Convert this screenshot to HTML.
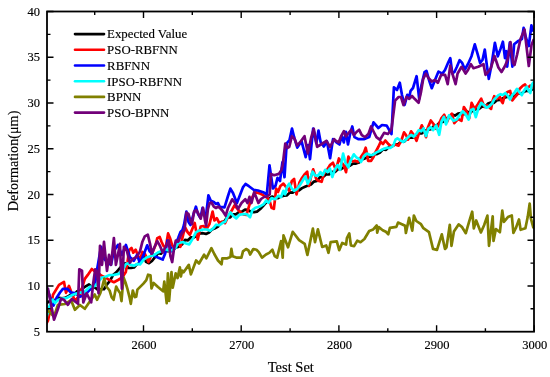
<!DOCTYPE html>
<html><head><meta charset="utf-8"><style>
html,body{margin:0;padding:0;background:#fff;width:550px;height:377px;overflow:hidden}
svg{display:block}
</style></head><body><svg width="550" height="377" viewBox="0 0 550 377"><clipPath id="c"><rect x="47.0" y="11.5" width="487.0" height="320.2"/></clipPath><g clip-path="url(#c)" fill="none" stroke-width="2.7" stroke-linejoin="round" stroke-linecap="round"><polyline stroke="#000000" points="44.0,303.9 47.0,302.9 50.0,301.0 53.0,301.2 56.0,299.3 59.0,297.9 62.0,298.4 65.0,297.8 68.0,296.5 71.0,294.3 74.0,295.0 77.0,291.4 80.0,290.8 83.0,288.1 86.0,286.1 89.0,284.5 92.0,287.3 95.0,287.5 98.0,290.1 101.0,289.2 104.0,289.2 107.0,284.4 110.0,280.9 113.0,275.1 116.0,272.6 119.0,269.2 122.0,265.7 125.0,263.3 128.0,267.8 131.0,268.0 134.0,267.5 137.0,264.2 140.0,263.1 143.0,253.1 146.0,261.7 149.0,263.2 152.0,261.0 155.0,257.2 158.0,253.2 161.0,253.6 164.0,251.3 167.0,250.8 170.0,251.2 173.0,250.0 176.0,247.5 179.0,246.7 182.0,244.5 185.0,239.9 188.0,240.3 191.0,237.3 194.0,237.4 197.0,235.5 200.0,233.3 203.0,233.2 206.0,233.9 209.0,232.6 212.0,229.4 215.0,228.2 218.0,226.6 221.0,223.0 224.0,221.7 227.0,217.6 230.0,217.5 233.0,214.4 236.0,214.3 239.0,212.0 242.0,211.6 245.0,209.6 248.0,209.9 251.0,211.8 254.0,212.1 257.0,211.6 260.0,209.3 263.0,206.1 266.0,202.6 269.0,198.8 272.0,196.5 275.0,197.7 278.0,198.1 281.0,196.4 284.0,195.6 287.0,195.3 290.0,192.4 293.0,192.6 296.0,189.9 299.0,190.3 302.0,188.1 305.0,186.7 308.0,185.4 311.0,184.4 314.0,181.6 317.0,180.9 320.0,177.2 323.0,177.0 326.0,174.4 329.0,174.5 332.0,171.9 335.0,172.0 338.0,169.0 341.0,169.2 344.0,167.2 347.0,165.9 350.0,165.7 353.0,163.7 356.0,163.6 359.0,162.5 362.0,159.4 365.0,158.4 368.0,156.8 371.0,156.6 374.0,154.0 377.0,154.1 380.0,152.5 383.0,149.4 386.0,149.9 389.0,146.9 392.0,146.5 395.0,144.3 398.0,144.2 401.0,141.7 404.0,141.7 407.0,138.8 410.0,137.6 413.0,137.6 416.0,135.0 419.0,133.2 422.0,133.4 425.0,130.5 428.0,129.8 431.0,129.2 434.0,125.9 437.0,125.1 440.0,122.2 443.0,121.8 446.0,118.5 449.0,117.6 452.0,114.5 455.0,115.6 458.0,113.6 461.0,113.2 464.0,114.1 467.0,111.6 470.0,112.9 473.0,110.2 476.0,109.2 479.0,109.0 482.0,106.4 485.0,107.0 488.0,103.6 491.0,102.4 494.0,102.8 497.0,100.2 500.0,100.0 503.0,98.2 506.0,97.3 509.0,96.5 512.0,96.3 515.0,95.9 518.0,93.1 521.0,93.7 524.0,91.8 527.0,90.8 530.0,91.2 533.0,88.8 536.0,88.4"/><polyline stroke="#ff0000" points="44.0,328.0 48.0,320.7 53.0,294.8 59.0,284.9 64.0,281.9 66.0,292.8 69.0,285.9 72.0,294.0 75.0,300.8 80.0,294.8 84.8,278.9 87.8,274.9 91.8,269.0 94.0,270.8 98.0,273.0 102.0,276.0 105.5,277.5 109.1,279.9 113.9,282.2 118.0,280.0 122.2,277.5 125.8,272.0 127.5,262.0 129.1,250.3 131.5,247.9 133.3,252.7 135.7,249.7 138.7,257.5 140.0,259.6 142.5,252.0 145.0,254.0 148.4,262.0 151.9,253.7 155.5,245.3 157.3,238.1 159.7,236.9 161.5,241.7 163.5,246.0 165.7,247.7 168.1,233.4 170.0,238.0 172.2,245.3 174.5,248.0 176.5,243.0 178.0,241.0 180.4,246.8 183.4,233.6 185.2,227.7 187.5,232.0 189.9,234.8 192.3,228.9 194.7,222.9 197.7,239.6 200.7,226.5 203.5,226.0 206.6,228.9 209.5,224.0 212.6,211.6 214.4,220.5 216.8,218.1 219.2,222.9 222.5,221.5 225.0,223.2 229.0,215.0 232.0,210.0 234.5,205.3 237.5,209.0 240.5,212.4 243.5,214.5 246.5,214.8 248.9,206.5 251.0,200.0 253.6,194.5 256.0,192.2 259.6,193.4 263.0,195.0 266.0,197.0 269.2,199.3 271.5,207.7 273.9,208.9 276.2,188.5 278.0,192.0 280.4,186.0 283.4,183.6 286.0,187.0 289.3,190.8 291.7,181.3 294.1,178.9 296.5,194.4 299.5,182.4 302.0,178.0 304.8,174.1 307.2,171.7 309.0,186.0 311.0,177.0 313.2,169.3 316.2,178.9 318.0,180.6 321.6,181.8 324.0,173.4 327.0,170.0 329.9,165.1 332.9,162.7 335.9,169.8 338.9,158.5 341.0,162.0 343.7,165.1 346.0,172.2 348.4,156.7 350.5,160.0 352.6,161.5 355.0,160.8 358.0,162.0 361.6,156.0 364.0,152.4 365.7,147.7 367.0,154.0 368.1,160.8 371.1,160.8 373.5,157.0 375.9,151.3 378.3,147.0 380.7,141.7 383.0,144.0 385.4,140.5 388.4,144.1 391.4,146.5 395.0,144.4 398.6,145.6 401.5,140.0 404.0,132.4 406.0,135.0 408.1,139.6 411.1,131.3 413.8,135.0 416.5,140.8 419.0,133.0 421.8,125.3 424.0,130.0 426.0,137.2 427.8,127.7 430.8,120.5 433.5,124.0 436.2,128.9 439.0,124.0 441.5,118.1 444.2,114.8 447.0,122.0 449.5,116.0 451.9,113.6 454.3,123.2 458.0,119.0 461.5,120.8 463.9,107.1 466.5,111.0 469.2,118.4 471.6,102.9 474.6,108.9 478.0,104.0 481.2,98.7 484.2,106.5 487.1,105.3 489.0,107.0 491.1,108.9 492.5,101.0 494.2,96.2 497.0,99.0 499.5,96.2 501.7,101.5 502.7,103.1 504.8,95.1 507.5,92.0 510.1,90.9 512.3,100.5 515.0,97.0 517.6,94.1 519.7,88.8 522.9,85.6 525.0,84.5 527.5,88.0 530.3,85.6 532.4,87.7 537.0,84.0"/><polyline stroke="#0000ff" points="44.0,284.0 47.0,288.0 50.0,297.0 53.5,305.6 56.5,298.0 60.0,292.5 62.9,288.8 67.3,288.8 70.9,292.5 75.0,293.0 79.9,296.8 84.8,294.8 88.8,290.8 94.8,284.9 97.0,270.0 101.0,246.9 104.0,258.9 108.0,262.8 111.0,264.8 113.9,250.9 117.9,244.9 121.9,254.9 125.9,244.9 129.8,256.9 133.8,260.9 137.0,254.9 140.0,263.2 143.6,254.9 147.2,245.3 149.6,251.3 152.5,254.0 155.5,256.6 159.0,258.0 162.7,259.6 165.1,253.7 167.5,240.5 170.0,246.0 172.2,251.3 175.0,246.0 178.2,238.1 180.5,232.0 182.5,230.0 184.0,225.0 186.4,211.5 188.5,222.0 190.5,225.0 193.0,216.0 195.9,206.7 198.0,214.0 200.5,218.0 202.5,207.9 204.5,215.0 206.0,216.0 208.4,195.4 210.8,200.7 213.8,201.9 216.0,204.0 218.0,203.1 219.8,206.8 224.5,207.4 228.0,196.0 230.4,188.6 233.0,193.0 236.9,202.9 240.0,195.0 242.9,187.4 245.5,184.0 248.9,186.2 253.6,189.8 258.0,190.5 263.2,192.2 266.8,194.5 269.5,165.3 272.9,188.5 275.5,185.8 277.5,177.9 280.0,181.0 282.4,162.4 284.5,177.2 286.7,143.3 289.5,140.0 292.0,128.5 294.1,137.0 297.3,147.6 301.5,141.2 305.7,157.1 308.0,145.0 310.0,159.2 313.2,128.5 316.3,143.3 318.5,130.6 320.6,142.0 323.8,146.5 326.9,141.2 330.1,158.2 333.0,139.1 336.4,142.4 339.5,144.5 341.7,136.0 343.8,142.4 345.9,131.8 348.0,144.5 350.1,133.9 352.3,126.5 354.4,137.1 358.6,139.2 363.9,139.2 369.2,137.1 373.5,122.3 378.4,128.0 382.0,125.0 386.7,125.6 391.5,134.0 393.9,87.4 397.0,90.0 399.8,82.7 402.0,95.0 404.6,105.0 407.3,94.8 409.0,98.0 410.6,90.8 413.0,88.0 416.6,76.2 419.2,98.8 421.5,85.0 424.5,72.2 426.5,70.9 429.0,80.0 431.8,88.2 435.0,80.0 438.5,71.6 442.4,73.6 445.0,70.0 448.4,62.0 450.3,58.2 452.3,73.5 454.5,72.0 456.9,66.8 459.6,60.2 462.2,62.9 464.9,69.5 468.0,64.0 471.5,56.2 474.8,44.3 477.5,53.6 480.1,62.9 482.5,60.0 484.8,49.6 486.8,65.0 488.8,78.8 491.4,65.5 494.9,42.8 497.8,56.4 500.7,48.4 502.9,41.7 505.0,58.0 506.4,51.2 507.2,66.7 509.8,42.6 512.4,66.7 514.1,44.3 518.4,40.9 521.9,39.1 523.6,27.9 526.0,38.0 528.8,46.0 531.4,25.3 533.1,30.5 537.0,28.0"/><polyline stroke="#00ffff" points="44.0,318.0 46.9,315.8 49.5,306.0 52.7,299.7 55.0,303.0 58.0,300.0 61.0,298.8 67.0,297.8 72.9,294.8 78.8,292.8 84.8,291.8 89.8,286.9 95.0,286.0 101.9,277.5 105.0,277.0 109.1,275.1 113.5,275.0 118.7,273.9 122.2,270.3 125.8,264.3 128.2,263.1 130.3,264.6 133.9,265.8 137.5,264.0 140.0,264.4 143.6,259.6 147.2,257.2 151.0,256.0 154.3,254.9 157.9,252.5 161.5,251.0 165.1,248.9 168.5,250.5 172.2,250.1 175.8,247.7 178.0,243.2 182.8,242.0 186.0,243.5 189.3,244.4 192.9,238.4 195.9,232.4 198.9,230.7 203.1,229.5 207.2,229.5 210.2,230.7 213.2,228.3 216.2,224.7 219.2,225.3 223.3,222.3 225.0,222.0 228.0,216.0 230.4,212.4 233.3,216.0 236.3,218.4 239.3,214.8 242.9,214.2 246.5,214.0 250.1,217.2 252.4,210.1 255.4,207.7 258.0,207.0 260.8,205.9 263.8,204.1 266.2,200.5 268.6,202.9 271.5,198.1 275.0,199.2 278.6,195.6 281.0,197.0 283.4,190.8 285.1,194.4 286.9,187.2 289.3,183.6 291.7,188.4 294.1,190.8 297.0,189.0 300.1,184.8 303.0,180.1 305.4,176.5 307.8,183.6 310.2,178.9 312.6,171.7 315.0,175.3 318.0,175.8 320.4,172.2 322.8,175.0 325.2,169.8 327.5,172.0 329.9,168.6 332.3,177.0 334.7,169.8 337.7,165.1 340.1,169.8 343.1,153.7 345.4,162.7 348.4,167.4 350.8,160.3 353.8,154.3 356.5,157.5 358.5,158.4 361.0,162.0 364.0,156.0 366.9,153.6 370.0,155.0 372.9,154.8 376.5,152.4 380.1,150.7 383.6,148.9 387.2,147.7 390.0,148.0 393.2,145.9 395.5,139.6 397.4,138.4 400.5,140.5 403.4,142.0 405.5,140.0 408.1,137.2 411.1,134.8 413.8,136.5 416.5,133.6 418.9,130.1 421.3,131.3 423.6,128.3 426.0,136.0 428.4,128.9 430.8,127.1 433.2,130.1 436.2,125.3 439.2,134.8 441.5,121.7 443.9,116.9 446.0,124.4 449.0,115.4 451.0,118.0 453.7,120.8 456.7,119.6 459.7,115.0 462.7,111.3 465.5,114.0 468.6,119.6 471.0,110.0 473.4,108.9 475.8,117.2 478.5,108.0 481.2,102.9 483.8,105.0 486.5,107.7 489.0,106.5 492.1,103.6 494.2,99.4 496.4,97.3 498.5,95.1 500.6,94.1 502.7,95.1 505.4,93.0 508.0,96.2 510.1,99.4 512.3,95.1 514.9,92.0 517.0,88.8 519.2,92.0 521.8,95.1 523.9,90.9 526.6,86.7 528.7,90.9 530.3,93.0 531.9,84.5 533.5,82.4 537.0,80.0"/><polyline stroke="#808000" points="44.0,306.0 48.0,310.8 54.0,316.5 58.0,304.8 65.0,304.0 71.0,300.0 74.9,309.8 79.9,305.0 84.8,308.8 88.8,303.0 94.8,294.5 97.0,299.8 100.3,293.2 102.3,286.5 104.3,278.6 106.3,286.5 109.6,290.5 111.6,297.1 113.6,299.8 116.2,286.5 118.0,290.0 120.2,293.2 121.5,301.1 123.5,277.2 125.5,282.5 127.5,289.2 129.5,297.1 130.8,303.8 132.8,290.5 134.8,297.1 136.2,296.8 137.4,289.6 140.4,286.6 143.4,283.6 146.3,280.1 148.1,274.7 150.5,275.3 151.5,288.5 153.6,282.9 158.0,287.0 163.1,291.3 164.3,281.7 166.7,303.2 167.9,273.4 169.1,300.8 170.0,290.0 171.5,272.2 172.7,287.7 175.7,273.4 177.5,278.1 179.9,267.4 180.9,276.5 182.1,270.5 183.6,272.2 188.8,264.9 190.9,274.4 196.1,260.5 199.0,263.5 204.1,254.7 206.3,258.4 211.4,248.1 214.3,254.0 218.0,260.5 221.6,264.2 222.3,258.4 226.7,258.4 230.4,256.9 231.4,248.9 232.6,256.2 236.2,257.6 238.2,257.7 241.4,257.7 243.0,251.3 246.1,249.0 248.5,250.5 250.1,254.5 253.3,249.0 256.5,249.7 258.8,252.1 262.0,257.7 266.0,254.5 269.2,252.9 272.4,249.7 274.7,256.1 277.1,257.7 281.1,241.0 282.7,257.7 283.5,235.4 285.9,241.8 288.0,247.3 292.7,231.8 299.1,240.1 304.7,243.8 307.4,254.9 312.9,228.6 315.0,242.2 317.9,229.4 322.2,247.0 326.2,245.4 328.5,252.8 330.6,242.2 336.8,241.4 339.2,250.1 342.2,243.0 346.1,244.6 346.9,238.2 349.3,233.4 350.9,245.4 354.1,246.2 357.3,240.6 360.5,242.2 364.4,239.0 366.8,235.0 369.2,231.0 373.2,229.4 376.7,225.5 377.2,232.6 378.8,227.1 382.7,230.2 385.9,231.8 388.3,234.2 389.9,227.9 393.2,227.4 396.4,226.9 398.0,222.6 401.9,224.2 405.1,225.8 405.9,233.0 409.1,217.9 412.3,230.6 413.9,215.5 416.3,221.0 421.0,224.2 423.4,228.2 429.0,232.2 433.0,248.9 437.0,249.9 441.8,234.3 445.0,249.0 446.5,247.3 449.8,224.8 451.5,245.9 453.9,231.6 458.6,224.4 461.8,226.8 465.8,233.2 469.0,222.1 472.2,211.7 473.8,228.4 476.2,220.5 480.9,232.4 484.1,225.2 487.4,215.6 489.0,245.8 492.7,216.3 493.5,240.9 495.9,229.0 499.9,232.2 502.3,210.7 503.9,221.8 507.9,217.1 511.8,215.5 513.4,233.0 515.8,228.2 519.0,219.4 520.6,229.8 525.4,228.2 527.7,217.1 529.7,203.5 530.9,218.7 533.3,227.4 537.0,230.0"/><polyline stroke="#720079" points="44.0,286.0 48.0,288.9 54.0,319.7 58.0,308.8 61.0,298.8 64.0,299.8 67.9,304.8 71.9,299.0 78.0,303.8 79.3,269.3 82.0,270.6 83.3,302.4 85.0,298.0 86.6,293.2 88.5,297.0 91.2,302.4 93.0,285.0 95.2,269.3 97.2,271.9 98.5,293.2 100.0,245.9 102.0,264.8 104.0,241.9 107.0,270.8 109.0,254.9 111.0,264.8 113.9,238.0 115.9,264.8 117.9,254.9 119.9,243.9 121.9,288.7 123.9,246.9 126.9,250.9 129.8,262.8 132.8,258.9 136.8,256.9 140.0,251.3 142.4,241.7 144.8,236.3 147.8,234.6 150.1,244.1 151.9,253.7 154.5,247.0 157.3,241.1 159.7,245.3 162.7,252.5 165.5,247.0 168.7,240.5 170.4,256.0 172.2,262.0 174.0,248.9 175.8,240.5 178.2,241.7 181.6,233.6 184.6,229.4 186.4,212.7 188.5,214.0 190.5,221.0 192.0,224.0 194.1,211.5 196.5,210.3 198.5,214.0 200.7,218.7 203.1,207.9 204.9,219.9 206.1,225.8 207.9,209.1 209.6,203.1 211.5,202.5 213.8,206.7 216.0,208.0 218.0,206.7 220.0,208.0 222.7,211.0 225.7,215.7 228.0,208.0 232.2,199.3 235.0,203.0 238.1,208.9 241.5,203.0 245.3,199.3 247.5,203.0 249.5,196.9 251.5,203.0 254.2,192.2 256.5,198.0 258.4,202.9 261.0,199.0 264.0,197.0 267.0,196.5 269.7,194.5 270.9,173.9 274.2,175.2 278.8,173.9 281.5,169.9 282.7,165.0 285.3,143.5 287.5,148.0 289.3,146.8 291.9,136.2 294.6,138.9 297.2,145.5 301.0,141.0 304.5,136.2 307.9,153.5 311.2,137.5 313.8,128.9 317.1,146.8 320.0,145.0 322.4,143.5 326.4,140.9 330.0,146.8 334.2,139.2 336.0,141.0 338.6,142.4 341.3,135.8 343.9,131.2 345.9,136.5 348.5,133.0 351.2,129.8 353.9,135.1 356.5,132.0 359.2,129.8 361.8,135.1 365.1,137.1 368.5,133.8 371.1,126.5 373.8,132.0 376.4,137.1 380.0,139.8 384.1,132.9 387.9,134.0 391.5,129.2 395.1,100.6 398.6,97.0 401.0,97.0 403.5,105.0 406.5,97.0 409.3,98.8 412.0,96.0 414.6,98.8 418.6,102.7 421.0,92.0 423.2,78.9 425.9,73.6 428.5,78.0 431.8,81.5 435.0,80.0 437.8,82.9 441.1,74.9 445.1,74.9 447.7,84.1 450.3,65.5 452.8,75.0 455.6,84.1 457.6,73.5 461.6,66.8 465.6,73.5 468.0,70.0 470.9,64.2 473.5,68.2 478.2,66.8 483.5,64.2 485.5,74.8 488.0,72.0 490.8,68.2 494.5,56.0 498.4,67.5 501.5,72.0 505.0,66.0 507.5,60.0 510.5,42.0 513.0,63.0 514.5,65.0 517.0,55.0 520.5,39.0 524.5,29.5 528.8,66.0 531.5,45.0 533.5,40.0 537.0,45.0"/></g><rect x="47.0" y="11.5" width="487.0" height="320.2" fill="none" stroke="#000" stroke-width="1.8"/><path d="M94.7,331.7v-3.5M94.7,11.5v3.5M143.5,331.7v-6.5M143.5,11.5v6.5M192.3,331.7v-3.5M192.3,11.5v3.5M241.2,331.7v-6.5M241.2,11.5v6.5M290.1,331.7v-3.5M290.1,11.5v3.5M338.9,331.7v-6.5M338.9,11.5v6.5M387.8,331.7v-3.5M387.8,11.5v3.5M436.6,331.7v-6.5M436.6,11.5v6.5M485.4,331.7v-3.5M485.4,11.5v3.5M534.3,331.7v-6.5M534.3,11.5v6.5M47.0,308.8h3.5M534.0,308.8h-3.5M47.0,286.0h6.5M534.0,286.0h-6.5M47.0,263.1h3.5M534.0,263.1h-3.5M47.0,240.2h6.5M534.0,240.2h-6.5M47.0,217.3h3.5M534.0,217.3h-3.5M47.0,194.5h6.5M534.0,194.5h-6.5M47.0,171.6h3.5M534.0,171.6h-3.5M47.0,148.7h6.5M534.0,148.7h-6.5M47.0,125.9h3.5M534.0,125.9h-3.5M47.0,103.0h6.5M534.0,103.0h-6.5M47.0,80.1h3.5M534.0,80.1h-3.5M47.0,57.2h6.5M534.0,57.2h-6.5M47.0,34.4h3.5M534.0,34.4h-3.5M47.0,11.5h6.5M534.0,11.5h-6.5" stroke="#000" stroke-width="1.4" fill="none"/><g font-family="Liberation Serif, serif" font-size="12.5" fill="#000" stroke="#000" stroke-width="0.15"><text transform="translate(144.0,349.0) scale(1,1.05)" text-anchor="middle">2600</text><text transform="translate(241.7,349.0) scale(1,1.05)" text-anchor="middle">2700</text><text transform="translate(339.4,349.0) scale(1,1.05)" text-anchor="middle">2800</text><text transform="translate(437.1,349.0) scale(1,1.05)" text-anchor="middle">2900</text><text transform="translate(534.8,349.0) scale(1,1.05)" text-anchor="middle">3000</text><text transform="translate(40.1,335.7) scale(1,1.05)" text-anchor="end">5</text><text transform="translate(40.1,290.0) scale(1,1.05)" text-anchor="end">10</text><text transform="translate(40.1,244.2) scale(1,1.05)" text-anchor="end">15</text><text transform="translate(40.1,198.5) scale(1,1.05)" text-anchor="end">20</text><text transform="translate(40.1,152.7) scale(1,1.05)" text-anchor="end">25</text><text transform="translate(40.1,107.0) scale(1,1.05)" text-anchor="end">30</text><text transform="translate(40.1,61.2) scale(1,1.05)" text-anchor="end">35</text><text transform="translate(40.1,15.5) scale(1,1.05)" text-anchor="end">40</text></g><text x="290.8" y="371.5" font-family="Liberation Serif, serif" font-size="14.5" text-anchor="middle" stroke="#000" stroke-width="0.15">Test Set</text><text transform="translate(17.8,160.9) rotate(-90)" font-family="Liberation Serif, serif" font-size="14.2" text-anchor="middle" stroke="#000" stroke-width="0.15">Deformation(μm)</text><g font-family="Liberation Serif, serif" font-size="12.85" fill="#000" stroke="#000" stroke-width="0.15"><line x1="75" y1="34.1" x2="104" y2="34.1" stroke="#000000" stroke-width="2.6" stroke-linecap="round"/><text x="107.1" y="38.4">Expected Value</text><line x1="75" y1="49.8" x2="104" y2="49.8" stroke="#ff0000" stroke-width="2.6" stroke-linecap="round"/><text x="107.1" y="54.1">PSO-RBFNN</text><line x1="75" y1="65.5" x2="104" y2="65.5" stroke="#0000ff" stroke-width="2.6" stroke-linecap="round"/><text x="107.1" y="69.8">RBFNN</text><line x1="75" y1="81.2" x2="104" y2="81.2" stroke="#00ffff" stroke-width="2.6" stroke-linecap="round"/><text x="107.1" y="85.5">IPSO-RBFNN</text><line x1="75" y1="96.9" x2="104" y2="96.9" stroke="#808000" stroke-width="2.6" stroke-linecap="round"/><text x="107.1" y="101.2">BPNN</text><line x1="75" y1="112.6" x2="104" y2="112.6" stroke="#720079" stroke-width="2.6" stroke-linecap="round"/><text x="107.1" y="116.9">PSO-BPNN</text></g></svg></body></html>
